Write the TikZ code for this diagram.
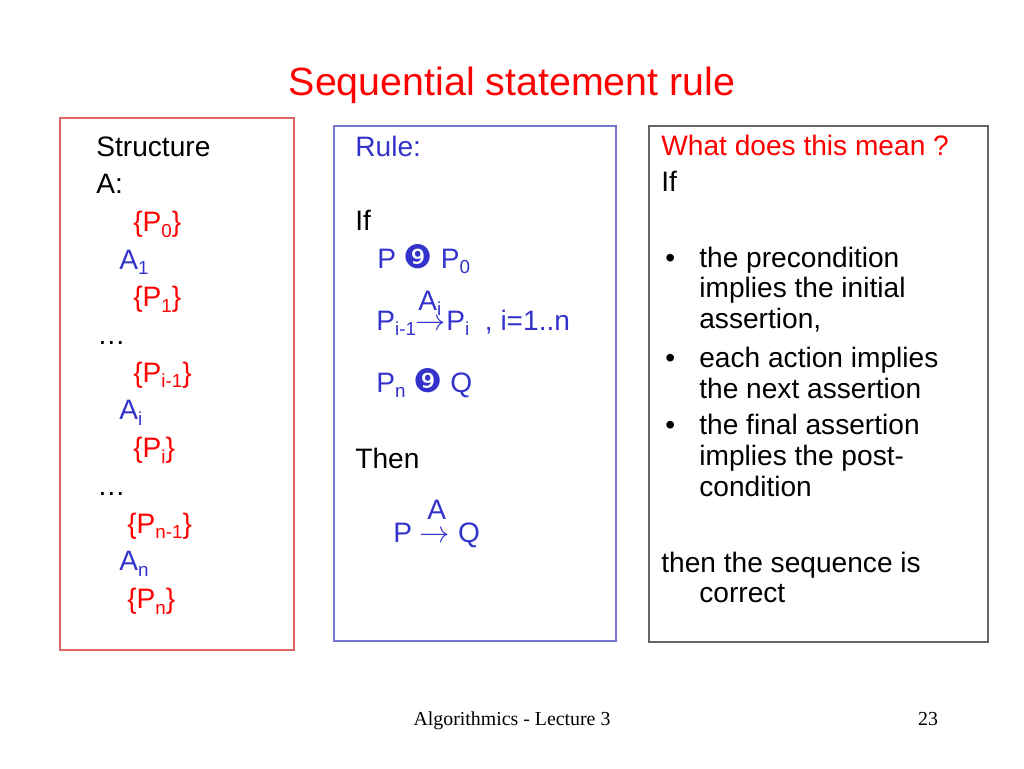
\documentclass[tikz,border=0pt]{standalone}
\usepackage{fontspec}
\setmainfont{Liberation Sans}
\newfontfamily\footfont{Liberation Serif}
\newfontfamily\dingfont{DejaVu Sans}
\usepackage{tikz}
\usetikzlibrary{positioning}
\definecolor{SlideRed}{HTML}{FF0000}
\definecolor{SlideBlue}{HTML}{3333CC}
\definecolor{FrameRed}{HTML}{E06666}
\definecolor{FrameBlue}{HTML}{7777CC}
\definecolor{FrameGray}{HTML}{666666}
\newcommand\lowidx[1]{\raisebox{-3.2pt}{\fontsize{10.7}{12}\selectfont #1}}
\newcommand\implsym{{\dingfont\fontsize{18.5}{19}\selectfont ❾}}
\tikzset{
  slidetitle/.style={anchor=base, inner sep=0pt, text=SlideRed, font=\fontsize{22.4}{27}\selectfont},
  bodytext/.style={anchor=base west, inner sep=0pt, font=\fontsize{16}{19}\selectfont},
  framebox/.style={line width=0.85pt},
  footertext/.style={anchor=base, inner sep=0pt, font=\footfont\fontsize{11.3}{13}\selectfont}
}

\begin{document}
\begin{tikzpicture}[x=0.02cm, y=-0.02cm]
  \useasboundingbox (0,0) rectangle (1024,768);

  % Title
  \node[slidetitle] (title) at (512,95) {Sequential statement rule};

  % Frames
  \draw[framebox, FrameRed] (60,118) rectangle (294,650);
  \draw[framebox, FrameBlue] (334,126) rectangle (616,641);
  \draw[framebox, FrameGray] (649,126) rectangle (988,642);

  % Structure
  \foreach \n/\x/\col/\txt in {0/96/black/{Structure}, 1/96/black/{A:}, 2/133/SlideRed/{\{P\lowidx{0}\}}, 3/119/SlideBlue/{A\lowidx{1}}, 4/133/SlideRed/{\{P\lowidx{1}\}}, 5/97/black/{…}, 6/133/SlideRed/{\{P\lowidx{i-1}\}}, 7/119/SlideBlue/{A\lowidx{i}}, 8/133/SlideRed/{\{P\lowidx{i}\}}, 9/97/black/{…}, 10/127/SlideRed/{\{P\lowidx{n-1}\}}, 11/119/SlideBlue/{A\lowidx{n}}, 12/127/SlideRed/{\{P\lowidx{n}\}}} {
    \node[bodytext, text=\col] (struct-\n) at (\x,156+\n*37.7) {\txt};
  }

  % Rule
  \node[bodytext, text=SlideBlue] (rule) at (355,156) {Rule:};
  \node[bodytext] (rule-if) at (355,230) {If};
  \node[bodytext, text=SlideBlue] (pre) at (377,268) {P \implsym\ P\lowidx{0}};
  \node[bodytext, text=SlideBlue] (step) at (376,330) {P\lowidx{i-1}$\rightarrow$P\lowidx{i}\ \ , i=1..n};
  \node[bodytext, text=SlideBlue] (step-act) at (418,310) {A\lowidx{i}};
  \node[bodytext, text=SlideBlue] (post) at (376,392) {P\lowidx{n} \implsym\ Q};
  \node[bodytext] (rule-then) at (355,468) {Then};
  \node[bodytext, text=SlideBlue] (concl) at (393,542) {P $\rightarrow$ Q};
  \node[bodytext, text=SlideBlue] (concl-act) at (427,519) {A};

  % Meaning
  \node[bodytext, text=SlideRed] (mean) at (661,155) {What does this mean ?};
  \node[bodytext] (mean-if) at (661,191) {If};
  \foreach \n/\y/\txt in {1/267/{the precondition}, 2/297/{implies the initial}, 3/328/{assertion,}, 4/367/{each action implies}, 5/398/{the next assertion}, 6/434/{the final assertion}, 7/465/{implies the post-}, 8/496/{condition}} {
    \node[bodytext] (mean-\n) at (699,\y) {\txt};
  }
  \foreach \n/\y in {1/267, 2/367, 3/434} {
    \node[bodytext] (dot-\n) at (665,\y) {•};
  }
  \node[bodytext] (seq) at (661,572) {then the sequence is};
  \node[bodytext] (seq-end) at (699,602) {correct};

  % Footer
  \node[footertext] (footer) at (512,725) {Algorithmics - Lecture 3};
  \node[footertext] (page) at (928,725) {23};
\end{tikzpicture}
\end{document}
